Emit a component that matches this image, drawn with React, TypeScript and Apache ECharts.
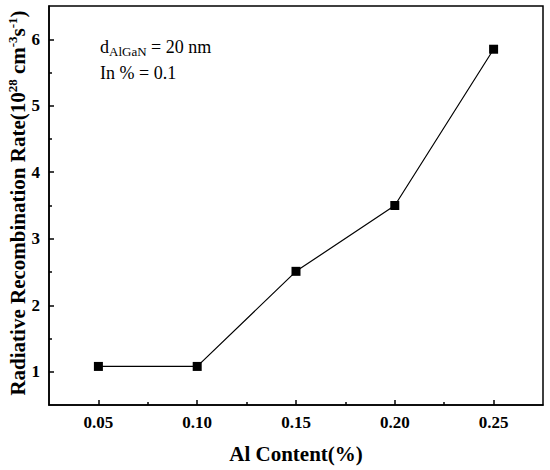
import React, { useEffect, useRef } from 'react';
import * as echarts from 'echarts';

// 数据
const alContent = [0.05, 0.1, 0.15, 0.2, 0.25];
const recombRate = [1.08, 1.08, 2.51, 3.5, 5.85];
const xTicks = [0.05, 0.1, 0.15, 0.2, 0.25];
const xMinorTicks = [0.075, 0.125, 0.175, 0.225];
const yTicks = [1, 2, 3, 4, 5, 6];
const yMinorTicks = [1.5, 2.5, 3.5, 4.5, 5.5];

const FONT = '"Liberation Serif", "Times New Roman", serif';

const App: React.FC = () => {
  const chartRef = useRef<HTMLDivElement>(null);

  useEffect(() => {
    document.body.style.margin = '0';
    if (!chartRef.current) return;
    const chart = echarts.init(chartRef.current, null, { renderer: 'svg' });

    const axisLineStyle = { color: '#000', width: 1.5 };
    const labelStyle = {
      fontFamily: FONT,
      fontWeight: 'bold' as const,
      fontSize: 17,
      color: '#000'
    };

    const option: echarts.EChartsOption = {
      animation: false,
      backgroundColor: '#fff',
      grid: {
        left: 49,
        right: 7,
        top: 6,
        bottom: 65,
        containLabel: false,
        outerBoundsMode: 'none',
        show: true,
        borderColor: '#000',
        borderWidth: 1.5
      } as any,
      xAxis: [
        {
          type: 'value',
          min: 0.025,
          max: 0.275,
          axisLine: { show: true, lineStyle: axisLineStyle },
          axisTick: { show: true, inside: true, length: 5, customValues: xTicks, lineStyle: axisLineStyle },
          axisLabel: { ...labelStyle, margin: 9, customValues: xTicks, formatter: (v: number) => v.toFixed(2) },
          splitLine: { show: false },
          name: 'Al Content(%)',
          nameLocation: 'middle',
          nameGap: 38,
          nameTextStyle: { fontFamily: FONT, fontWeight: 'bold', fontSize: 21, color: '#000' }
        },
        {
          type: 'value',
          min: 0.025,
          max: 0.275,
          position: 'bottom',
          axisLine: { show: false },
          axisTick: { show: true, inside: true, length: 3, customValues: xMinorTicks, lineStyle: axisLineStyle },
          axisLabel: { show: false },
          splitLine: { show: false }
        }
      ],
      yAxis: [
        {
          type: 'value',
          min: 0.5,
          max: 6.5,
          axisLine: { show: true, lineStyle: axisLineStyle },
          axisTick: { show: true, inside: true, length: 5, customValues: yTicks, lineStyle: axisLineStyle },
          axisLabel: { ...labelStyle, margin: 9, customValues: yTicks },
          splitLine: { show: false }
        },
        {
          type: 'value',
          min: 0.5,
          max: 6.5,
          position: 'left',
          axisLine: { show: false },
          axisTick: { show: true, inside: true, length: 3, customValues: yMinorTicks, lineStyle: axisLineStyle },
          axisLabel: { show: false },
          splitLine: { show: false }
        }
      ],
      graphic: [
        {
          // y 轴标题
          type: 'text',
          x: 18,
          y: 203,
          rotation: Math.PI / 2,
          style: {
            text: '{t|Radiative Recombination Rate(10}{s|28}{t| cm}{s|-3}{t|s}{s|-1}{t|)}',
            align: 'center',
            verticalAlign: 'middle',
            rich: {
              t: { fontFamily: FONT, fontWeight: 'bold', fontSize: 21, fill: '#000', lineHeight: 25 },
              s: { fontFamily: FONT, fontWeight: 'bold', fontSize: 13, fill: '#000', lineHeight: 13, verticalAlign: 'top' }
            }
          }
        },
        {
          type: 'text',
          x: 100,
          y: 36,
          style: {
            text: '{m|d}{b|AlGaN}{m| = 20 nm}',
            rich: {
              m: { fontFamily: FONT, fontSize: 18, fill: '#000', lineHeight: 22 },
              b: { fontFamily: FONT, fontSize: 13, fill: '#000', lineHeight: 13, verticalAlign: 'bottom' }
            }
          }
        },
        {
          type: 'text',
          x: 100,
          y: 64,
          style: { text: 'In % = 0.1', fontFamily: FONT, fontSize: 18, fill: '#000' }
        }
      ],
      series: [
        {
          type: 'line',
          xAxisIndex: 0,
          yAxisIndex: 0,
          data: alContent.map((x, i) => [x, recombRate[i]]),
          symbol: 'rect',
          symbolSize: 9,
          lineStyle: { color: '#000', width: 1.2 },
          itemStyle: { color: '#000' }
        }
      ]
    };

    chart.setOption(option);
    return () => {
      chart.dispose();
    };
  }, []);

  return <div ref={chartRef} style={{ width: 550, height: 470 }} />;
};

export default App;
